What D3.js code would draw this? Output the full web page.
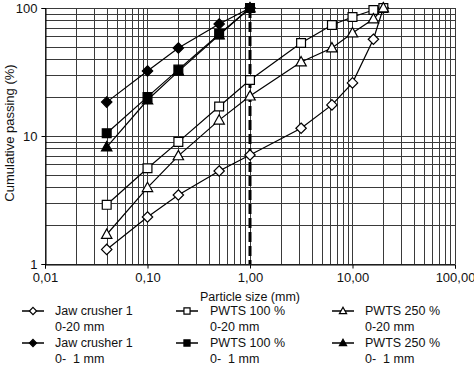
<!DOCTYPE html>
<html><head><meta charset="utf-8">
<script src="https://cdn.jsdelivr.net/npm/d3@7"></script>
<style>body{margin:0;background:#fff;} svg{display:block;font-family:"Liberation Sans",Arial,sans-serif;}</style>
</head><body>
<script>
const sizes020 = [0.04, 0.1, 0.2, 0.5, 1, 3.15, 6.3, 10, 16, 20];
const sizes01 = [0.04, 0.1, 0.2, 0.5, 1];
const jaw020 = [1.3, 2.33, 3.46, 5.33, 7.1, 11.5, 17.5, 26, 57, 100];
const pwts100_020 = [2.9, 5.6, 9, 17, 27.4, 53.3, 73.7, 85, 96.5, 100];
const pwts250_020 = [1.7, 3.95, 7, 13.3, 20.5, 37.9, 48.7, 63.8, 82, 100];
const jaw01 = [18.4, 32.2, 48.7, 75, 100];
const pwts100_01 = [10.5, 20.2, 33, 62.5, 100];
const pwts250_01 = [8.2, 19.1, 32, 61.5, 100];
const xTickVals = [0.01, 0.1, 1, 10, 100];
const xTickLabels = ["0,01", "0,10", "1,00", "10,00", "100,00"];
const yTickVals = [1, 10, 100];
const yTickLabels = ["1", "10", "100"];
const seriesNames = [["Jaw crusher 1", "0-20 mm"], ["PWTS 100 %", "0-20 mm"], ["PWTS 250 %", "0-20 mm"],
                     ["Jaw crusher 1", "0-  1 mm"], ["PWTS 100 %", "0-  1 mm"], ["PWTS 250 %", "0-  1 mm"]];

const series = [
  {x: sizes020, y: jaw020, shape: "diamond", fill: "#fff"},
  {x: sizes020, y: pwts100_020, shape: "square", fill: "#fff"},
  {x: sizes020, y: pwts250_020, shape: "triangle", fill: "#fff"},
  {x: sizes01, y: jaw01, shape: "diamond", fill: "#000"},
  {x: sizes01, y: pwts100_01, shape: "square", fill: "#000"},
  {x: sizes01, y: pwts250_01, shape: "triangle", fill: "#000"}
];

const W = 474, H = 366;
const L = 45, R = 455, T = 8, B = 264;
const svg = d3.select("body").append("svg").attr("width", W).attr("height", H);
const x = d3.scaleLog().domain([0.01, 100]).range([L, R]);
const y = d3.scaleLog().domain([1, 100]).range([B, T]);

// grid
const gridColor = "#3a3a3a";
const xGrid = [];
for (let e = -2; e < 2; e++) for (let m = 1; m <= 9; m++) xGrid.push(m * Math.pow(10, e));
xGrid.push(100);
const yGrid = [];
for (let e = 0; e < 2; e++) for (let m = 1; m <= 9; m++) yGrid.push(m * Math.pow(10, e));
yGrid.push(100);
svg.append("g").selectAll("line").data(xGrid).join("line")
  .attr("x1", d => Math.round(x(d)) + 0.5).attr("x2", d => Math.round(x(d)) + 0.5)
  .attr("y1", T).attr("y2", B).attr("stroke", gridColor).attr("stroke-width", 1);
svg.append("g").selectAll("line").data(yGrid).join("line")
  .attr("y1", d => Math.round(y(d)) + 0.5).attr("y2", d => Math.round(y(d)) + 0.5)
  .attr("x1", L).attr("x2", R).attr("stroke", gridColor).attr("stroke-width", 1);

// axes
const xAxis = d3.axisBottom(x).tickValues(xTickVals).tickFormat((d, i) => xTickLabels[i]).tickSize(4).tickPadding(4);
const gx = svg.append("g").attr("transform", `translate(0,${B + 0.5})`).call(xAxis);
gx.select(".domain").attr("stroke", "#000");
gx.selectAll(".tick line").attr("stroke", "#000");
gx.selectAll("text").attr("font-size", 13).attr("fill", "#111").attr("font-family", "Liberation Sans, Arial, sans-serif");
const yAxis = d3.axisLeft(y).tickValues(yTickVals).tickFormat((d, i) => yTickLabels[i]).tickSize(4).tickPadding(4);
const gy = svg.append("g").attr("transform", `translate(${L + 0.5},0)`).call(yAxis);
gy.select(".domain").attr("stroke", "#000");
gy.selectAll(".tick line").attr("stroke", "#000");
gy.selectAll("text").attr("font-size", 13).attr("fill", "#111").attr("font-family", "Liberation Sans, Arial, sans-serif");

// titles
svg.append("text").attr("x", 250).attr("y", 301).attr("text-anchor", "middle")
  .attr("font-size", 12.5).attr("fill", "#111").text("Particle size (mm)");
svg.append("text").attr("transform", `translate(14,${(T + B) / 2 - 3}) rotate(-90)`).attr("text-anchor", "middle")
  .attr("font-size", 13).attr("fill", "#111").text("Cumulative passing (%)");

// dashed line at 1 mm
svg.append("line").attr("x1", x(1)).attr("x2", x(1)).attr("y1", T).attr("y2", B)
  .attr("stroke", "#000").attr("stroke-width", 3).attr("stroke-dasharray", "10,4");

function shapePath(shape, s) {
  if (shape === "diamond") return `M0,${-s}L${s},0L0,${s}L${-s},0Z`;
  if (shape === "square") return `M${-s*0.85},${-s*0.85}H${s*0.85}V${s*0.85}H${-s*0.85}Z`;
  return `M0,${-s*1.05}L${s},${s*0.75}L${-s},${s*0.75}Z`;
}

const line = d3.line().x(d => x(d[0])).y(d => y(d[1]));
series.forEach(s => {
  const pts = s.x.map((v, i) => [v, s.y[i]]);
  svg.append("path").datum(pts).attr("d", line).attr("fill", "none").attr("stroke", "#000").attr("stroke-width", 1.2);
});
series.forEach(s => {
  const pts = s.x.map((v, i) => [v, s.y[i]]);
  svg.append("g").selectAll("path").data(pts).join("path")
    .attr("transform", d => `translate(${x(d[0])},${y(d[1])})`)
    .attr("d", shapePath(s.shape, 5.2)).attr("fill", s.fill).attr("stroke", "#000").attr("stroke-width", 1.2);
});

// legend
const legCols = [33, 187, 343];
const legTextX = [55, 210, 365];
const legRows = [315, 347];
series.forEach((s, i) => {
  const col = i % 3, row = Math.floor(i / 3);
  const cx = legCols[col], cy = legRows[row] - 4;
  const g = svg.append("g");
  g.append("line").attr("x1", cx - 11).attr("x2", cx + 11).attr("y1", cy).attr("y2", cy).attr("stroke", "#000").attr("stroke-width", 1.5);
  g.append("path").attr("transform", `translate(${cx},${cy})`).attr("d", shapePath(s.shape, 3.6))
    .attr("fill", s.fill).attr("stroke", "#000").attr("stroke-width", 1.2);
  g.append("text").attr("x", legTextX[col]).attr("y", legRows[row]).attr("font-size", 12.5).attr("fill", "#111").text(seriesNames[i][0]);
  g.append("text").attr("x", legTextX[col]).attr("y", legRows[row] + 16).attr("font-size", 12.5).attr("fill", "#111").attr("xml:space", "preserve").style("white-space", "pre").text(seriesNames[i][1]);
});
</script>
</body></html>
